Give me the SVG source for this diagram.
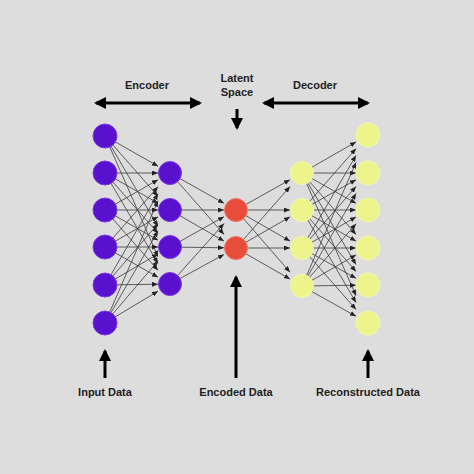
<svg xmlns="http://www.w3.org/2000/svg" width="474" height="474" viewBox="0 0 474 474">
<style>
.lbl{font-family:"Liberation Sans",Arial,sans-serif;font-weight:bold;font-size:11px;fill:#222;text-anchor:middle}
.c{stroke:#3a3a3a;stroke-width:0.8;fill:none;marker-end:url(#ah)}
.big{stroke:#000;stroke-width:3;fill:none}
.p{fill:#5a10cf;stroke:#7a3ae0;stroke-width:1}
.r{fill:#e84d3b;stroke:#f07a68;stroke-width:1}
.y{fill:#eef48c;stroke:#f3f7ac;stroke-width:1}
</style>
<defs>
<marker id="ah" markerUnits="userSpaceOnUse" markerWidth="6" markerHeight="5" refX="6" refY="2.5" orient="auto"><path d="M0,0 L6,2.5 L0,5 z" fill="#222"/></marker>
<marker id="bh" markerUnits="userSpaceOnUse" markerWidth="12" markerHeight="12" refX="10" refY="6" orient="auto-start-reverse"><path d="M0,0 L12,6 L0,12 z" fill="#000"/></marker>
</defs>
<rect width="474" height="474" fill="#dddddd"/>
<g id="connectors">
<line class="c" x1="105" y1="136" x2="158" y2="166.2"/>
<line class="c" x1="105" y1="136" x2="158" y2="196.3"/>
<line class="c" x1="105" y1="136" x2="158" y2="226.5"/>
<line class="c" x1="105" y1="136" x2="158" y2="256.7"/>
<line class="c" x1="105" y1="173" x2="158" y2="173"/>
<line class="c" x1="105" y1="173" x2="158" y2="203.2"/>
<line class="c" x1="105" y1="173" x2="158" y2="233.3"/>
<line class="c" x1="105" y1="173" x2="158" y2="263.5"/>
<line class="c" x1="105" y1="210" x2="158" y2="179.8"/>
<line class="c" x1="105" y1="210" x2="158" y2="210"/>
<line class="c" x1="105" y1="210" x2="158" y2="240.2"/>
<line class="c" x1="105" y1="210" x2="158" y2="270.3"/>
<line class="c" x1="105" y1="247" x2="158" y2="186.7"/>
<line class="c" x1="105" y1="247" x2="158" y2="216.8"/>
<line class="c" x1="105" y1="247" x2="158" y2="247"/>
<line class="c" x1="105" y1="247" x2="158" y2="277.2"/>
<line class="c" x1="105" y1="285" x2="158" y2="193.7"/>
<line class="c" x1="105" y1="285" x2="158" y2="223.8"/>
<line class="c" x1="105" y1="285" x2="158" y2="254"/>
<line class="c" x1="105" y1="285" x2="158" y2="284.2"/>
<line class="c" x1="105" y1="323" x2="158" y2="200.7"/>
<line class="c" x1="105" y1="323" x2="158" y2="230.9"/>
<line class="c" x1="105" y1="323" x2="158" y2="261"/>
<line class="c" x1="105" y1="323" x2="158" y2="291.2"/>
<line class="c" x1="170" y1="173" x2="224" y2="203.3"/>
<line class="c" x1="170" y1="173" x2="224" y2="234.4"/>
<line class="c" x1="170" y1="210" x2="224" y2="210"/>
<line class="c" x1="170" y1="210" x2="224" y2="241.1"/>
<line class="c" x1="170" y1="247" x2="224" y2="216.7"/>
<line class="c" x1="170" y1="247" x2="224" y2="247.8"/>
<line class="c" x1="170" y1="284" x2="224" y2="223.5"/>
<line class="c" x1="170" y1="284" x2="224" y2="254.5"/>
<line class="c" x1="236" y1="210" x2="290" y2="179.7"/>
<line class="c" x1="236" y1="210" x2="290" y2="210"/>
<line class="c" x1="236" y1="210" x2="290" y2="241.1"/>
<line class="c" x1="236" y1="210" x2="290" y2="272.2"/>
<line class="c" x1="236" y1="248" x2="290" y2="186.6"/>
<line class="c" x1="236" y1="248" x2="290" y2="216.9"/>
<line class="c" x1="236" y1="248" x2="290" y2="248"/>
<line class="c" x1="236" y1="248" x2="290" y2="279.1"/>
<line class="c" x1="302" y1="173" x2="356" y2="141.9"/>
<line class="c" x1="302" y1="173" x2="356" y2="173"/>
<line class="c" x1="302" y1="173" x2="356" y2="203.3"/>
<line class="c" x1="302" y1="173" x2="356" y2="234.4"/>
<line class="c" x1="302" y1="173" x2="356" y2="264.6"/>
<line class="c" x1="302" y1="173" x2="356" y2="295.7"/>
<line class="c" x1="302" y1="210" x2="356" y2="148.6"/>
<line class="c" x1="302" y1="210" x2="356" y2="179.7"/>
<line class="c" x1="302" y1="210" x2="356" y2="210"/>
<line class="c" x1="302" y1="210" x2="356" y2="241.1"/>
<line class="c" x1="302" y1="210" x2="356" y2="271.4"/>
<line class="c" x1="302" y1="210" x2="356" y2="302.5"/>
<line class="c" x1="302" y1="248" x2="356" y2="155.5"/>
<line class="c" x1="302" y1="248" x2="356" y2="186.6"/>
<line class="c" x1="302" y1="248" x2="356" y2="216.9"/>
<line class="c" x1="302" y1="248" x2="356" y2="248"/>
<line class="c" x1="302" y1="248" x2="356" y2="278.3"/>
<line class="c" x1="302" y1="248" x2="356" y2="309.4"/>
<line class="c" x1="302" y1="286" x2="356" y2="162.5"/>
<line class="c" x1="302" y1="286" x2="356" y2="193.5"/>
<line class="c" x1="302" y1="286" x2="356" y2="223.8"/>
<line class="c" x1="302" y1="286" x2="356" y2="254.9"/>
<line class="c" x1="302" y1="286" x2="356" y2="285.2"/>
<line class="c" x1="302" y1="286" x2="356" y2="316.3"/>
</g>
<g id="arrows">
<line class="big" x1="96" y1="103" x2="200" y2="103" marker-start="url(#bh)" marker-end="url(#bh)"/>
<line class="big" x1="264" y1="103" x2="368" y2="103" marker-start="url(#bh)" marker-end="url(#bh)"/>
<line class="big" x1="237" y1="109" x2="237" y2="128" marker-end="url(#bh)"/>
<line class="big" x1="236" y1="378" x2="236" y2="277" marker-end="url(#bh)"/>
<line class="big" x1="105" y1="378" x2="105" y2="351" marker-end="url(#bh)"/>
<line class="big" x1="368" y1="378" x2="368" y2="351" marker-end="url(#bh)"/>
</g>
<g id="input-layer">
<circle class="p" cx="105" cy="136" r="12"/>
<circle class="p" cx="105" cy="173" r="12"/>
<circle class="p" cx="105" cy="210" r="12"/>
<circle class="p" cx="105" cy="247" r="12"/>
<circle class="p" cx="105" cy="285" r="12"/>
<circle class="p" cx="105" cy="323" r="12"/>
</g>
<g id="encoder-hidden">
<circle class="p" cx="170" cy="173" r="11.5"/>
<circle class="p" cx="170" cy="210" r="11.5"/>
<circle class="p" cx="170" cy="247" r="11.5"/>
<circle class="p" cx="170" cy="284" r="11.5"/>
</g>
<g id="latent">
<circle class="r" cx="236" cy="210" r="11.5"/>
<circle class="r" cx="236" cy="248" r="11.5"/>
</g>
<g id="decoder-hidden">
<circle class="y" cx="302" cy="173" r="11.5"/>
<circle class="y" cx="302" cy="210" r="11.5"/>
<circle class="y" cx="302" cy="248" r="11.5"/>
<circle class="y" cx="302" cy="286" r="11.5"/>
</g>
<g id="output-layer">
<circle class="y" cx="368" cy="135" r="12"/>
<circle class="y" cx="368" cy="173" r="12"/>
<circle class="y" cx="368" cy="210" r="12"/>
<circle class="y" cx="368" cy="248" r="12"/>
<circle class="y" cx="368" cy="285" r="12"/>
<circle class="y" cx="368" cy="323" r="12"/>
</g>
<g id="labels">
<text class="lbl" x="147" y="89">Encoder</text>
<text class="lbl" x="237" y="82">Latent</text>
<text class="lbl" x="237" y="96">Space</text>
<text class="lbl" x="315" y="89">Decoder</text>
<text class="lbl" x="105" y="396">Input Data</text>
<text class="lbl" x="236" y="396">Encoded Data</text>
<text class="lbl" x="368" y="396">Reconstructed Data</text>
</g>
</svg>
